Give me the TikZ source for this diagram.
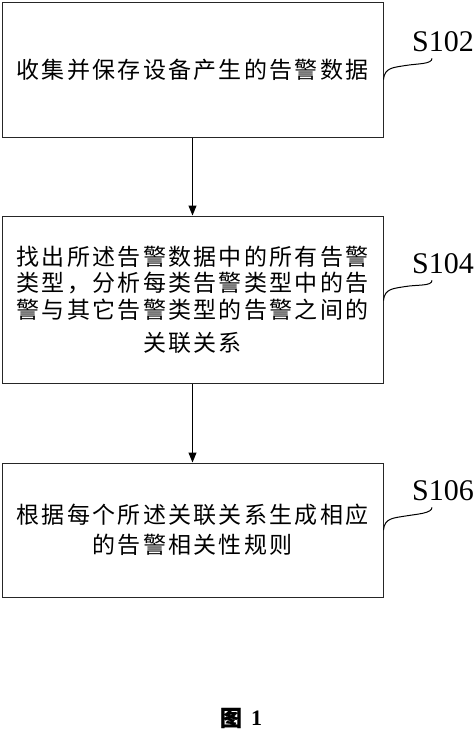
\documentclass[tikz,border=0pt]{standalone}
\usepackage{fontspec}
\setmainfont{Liberation Serif}
\newfontfamily\cjk[LetterSpace=10]{Noto Sans CJK SC}
\newfontfamily\cjkcap[FakeBold=0.8]{Noto Sans CJK SC}
\usepackage{tikz}
\usetikzlibrary{arrows.meta,positioning}

\begin{document}
\begin{tikzpicture}[
    x=1pt, y=-1pt,
    node distance=78pt,
    stepbox/.style={draw=black!85, line width=1pt, align=center, minimum width=381pt, inner sep=0pt},
    steplabel/.style={inner sep=0pt, font=\fontsize{30}{30}\selectfont},
    leader/.style={line width=1pt},
    arrow/.style={-{Triangle[length=10pt,width=8pt]}, line width=1pt}
]
\useasboundingbox (0,0) rectangle (474,734);

\node[stepbox, minimum height=135pt, font={\cjk\fontsize{23}{26}\selectfont}] (collect) at (192.5,69.5) {收集并保存设备产生的告警数据};
\node[stepbox, minimum height=167pt, below=of collect, font={\cjk\fontsize{23}{26.5}\selectfont}] (analyse) {找出所述告警数据中的所有告警\\类型，分析每类告警类型中的告\\警与其它告警类型的告警之间的\\[6.5pt]关联关系};
\node[stepbox, minimum height=134pt, below=79pt of analyse, font={\cjk\fontsize{23}{30}\selectfont}] (rules) {根据每个所述关联关系生成相应\\的告警相关性规则};

\node[steplabel] (s102) at (443,42) {S102};
\node[steplabel] (s104) at (443,264) {S104};
\node[steplabel] (s106) at (443,491) {S106};

\node[font={\fontsize{22}{22}\selectfont\bfseries}] (caption) at (241,718) {{\cjkcap 图}\hspace{9pt}1};

\draw[arrow] (collect) -- (analyse);
\draw[arrow] (analyse) -- (rules);

\draw[leader] ([yshift=-10pt]collect.east) .. controls +(1,-12) and +(-12,2) .. ++(22,-14) .. controls +(12,-2) and +(0,6) .. ([xshift=-11pt,yshift=-6pt]s102.south);
\draw[leader] ([yshift=-1pt]analyse.east) .. controls +(1,-12) and +(-12,2) .. ++(22,-14) .. controls +(12,-2) and +(0,6) .. ([xshift=-11pt,yshift=-6pt]s104.south);
\draw[leader] (rules.east) .. controls +(1,-12) and +(-12,2) .. ++(22,-14) .. controls +(12,-2) and +(0,6) .. ([xshift=-11pt,yshift=-6pt]s106.south);
\end{tikzpicture}
\end{document}
